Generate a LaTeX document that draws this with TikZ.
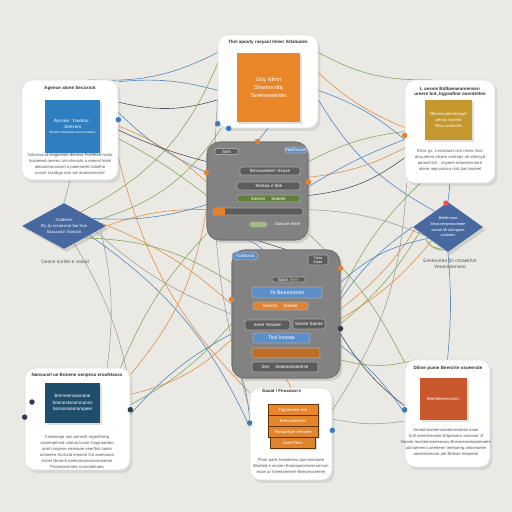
\documentclass[tikz,border=0pt]{standalone}
\usepackage{fontspec}
\setmainfont{Liberation Sans}
\usetikzlibrary{positioning,shapes.geometric,shadows}
\pgfdeclarelayer{back}
\pgfdeclarelayer{wires}
\pgfsetlayers{back,wires,main}
\definecolor{bgcol}{RGB}{234,233,228}
\definecolor{wblue}{RGB}{60,120,190}
\definecolor{worange}{RGB}{225,130,50}
\definecolor{wgreen}{RGB}{120,160,70}
\definecolor{wgray}{RGB}{150,150,150}
\definecolor{wdark}{RGB}{50,60,80}
\definecolor{cardorange}{RGB}{232,134,40}
\definecolor{cardblue}{RGB}{47,127,192}
\definecolor{cardgold}{RGB}{196,152,44}
\definecolor{cardteal}{RGB}{30,78,108}
\definecolor{cardrust}{RGB}{200,88,44}
\definecolor{diablue}{RGB}{72,104,160}
\definecolor{panelgray}{RGB}{130,130,130}
\definecolor{bardark}{RGB}{92,92,92}
\definecolor{barblue}{RGB}{92,143,200}

\begin{document}
\begin{tikzpicture}[x=0.02cm,y=-0.02cm,
  card/.style={draw=black!12,fill=white,rounded corners=2mm,drop shadow={opacity=0.18,shadow xshift=0.5mm,shadow yshift=-0.6mm},inner sep=0},
  sq/.style={draw=none,inner sep=0,drop shadow={opacity=0.25,shadow xshift=0.4mm,shadow yshift=-0.4mm}},
  ttl/.style={font=\fontsize{2.6}{3.2}\selectfont\bfseries,text=black!80},
  txt/.style={font=\fontsize{2.4}{3.4}\selectfont,text=black!65,align=center},
  inn/.style={font=\fontsize{3.2}{4.6}\selectfont,text=white,align=center},
  panel/.style={draw=black!55,fill=panelgray,rounded corners=2.5mm,line width=0.6pt,drop shadow={opacity=0.25,shadow xshift=0.5mm,shadow yshift=-0.6mm},inner sep=0},
  bar/.style={draw=black!35,fill=bardark,rounded corners=0.4mm,inner sep=0,font=\fontsize{2.6}{3}\selectfont,text=white},
  dia/.style={diamond,fill=diablue,draw=none,inner sep=0,drop shadow={opacity=0.25,shadow xshift=0.5mm,shadow yshift=-0.6mm}},
  wire/.style={draw=#1,line width=0.35pt,opacity=0.85},
  wdot/.style={circle,fill=#1,inner sep=0,minimum size=1.1mm}]

  \begin{pgfonlayer}{back}
    \fill[bgcol] (0,0) rectangle (512,512);
  \end{pgfonlayer}
  \useasboundingbox (0,0) rectangle (512,512);

  % cards
  \node[card,minimum width=20mm,minimum height=18.6mm] (tc) at (268,81.5) {};
  \node[card,minimum width=19.2mm,minimum height=20mm] (tl) at (70,130) {};
  \node[card,minimum width=18mm,minimum height=20.6mm] (tr) at (450,131.5) {};
  \node[card,minimum width=21mm,minimum height=20.4mm] (bl) at (77.5,419) {};
  \node[card,minimum width=16.4mm,minimum height=18.4mm] (bc) at (291,434) {};
  \filldraw[draw=black!12,fill=white] (466,440) -- (492,436) -- (476,462) -- cycle;
  \node[card,minimum width=17mm,minimum height=21.4mm] (br) at (447.5,413.5) {};

  % diamonds
  \node[dia,minimum width=16.8mm,minimum height=9.2mm] (dl) at (64,226) {};
  \fill[wgreen!70] (425,238) to[bend right=40] (445,250) -- (432,246) -- cycle;
  \node[dia,minimum width=14mm,minimum height=10mm] (dr) at (448,227) {};

  % gray panels
  \node[panel,minimum width=20.2mm,minimum height=19.6mm] (pa) at (257.5,191) {};
  \node[panel,minimum width=21.6mm,minimum height=25.6mm] (pb) at (286,314) {};

  % connectors, kept behind the cards
  \begin{pgfonlayer}{wires}
  \foreach \s/\t/\c/\b in {
    tl.20/pa.160/wblue/-10, tl.5/pa.170/worange/10, tl.30/tc.200/wdark/-15,
    tl.45/tc.190/wblue/10, tl.-10/pa.185/wgreen/5, tl.south/dl.north/wgray/0,
    dl.east/pa.200/worange/10, dl.15/pa.195/wblue/-10, dl.5/pb.170/worange/10,
    dl.-10/pb.180/wgray/-10, dl.-20/bc.170/wblue/15, dl.10/tc.225/wgreen/-20,
    tc.160/dl.40/wgreen/20, tc.south/pa.north/wblue/0, tc.-10/tr.190/wblue/10,
    tc.10/tr.175/worange/-10, tc.-20/dr.130/wblue/-15, tr.200/pa.15/worange/10,
    tr.190/pa.5/wblue/-5, tr.210/pa.-5/wdark/15, tr.south/dr.north/wblue/0,
    dr.west/pb.15/wblue/-10, dr.170/pb.5/worange/10, dr.190/pb.-10/wgreen/10,
    dr.south/br.north/wblue/5, dr.200/pa.-20/wgray/-10, pb.190/bl.15/wgreen/10,
    pb.200/bl.5/wblue/-10, pb.205/bl.25/worange/15, pb.215/bc.160/wblue/10,
    pb.-20/br.170/wdark/-10, pb.-30/br.180/wblue/10, pb.south/bc.north/worange/0,
    pa.south/pb.north/wdark/0, pa.-100/pb.110/wblue/10, pa.200/bl.40/worange/15,
    pa.220/bl.50/wgreen/-10, tc.200/bc.150/wgray/-10, tl.-30/bc.135/worange/-15,
    tr.230/bc.30/wgray/15, tr.240/pb.20/wgreen/-10, dl.-5/bl.60/wgray/10,
    pa.-40/br.130/wgreen/10, pb.-5/dr.220/worange/-10, tc.150/tl.70/wblue/15,
    tc.30/tr.110/wgreen/-15, pa.150/tl.0/wdark/5, pa.30/tr.180/wgreen/10,
    pb.150/dl.-30/wgreen/-15, pb.30/dr.-150/wblue/15, bl.30/dl.-60/wgray/-10,
    br.120/pb.-40/wgreen/15, bc.20/br.-170/wgray/-10}
    \draw[wire=\c] (\s) to[bend left=\b] (\t);
  \end{pgfonlayer}

  % dots on connector ends
  \foreach \p/\c [count=\i] in {pa.160/worange, tc.220/wblue, tc.230/wblue,
    tr.185/worange, dr.95/red!70, bl.10/wdark, bl.178/wdark, bc.165/wblue,
    bc.5/wblue, br.175/wblue, pb.165/worange, pb.-15/wdark, pa.north/worange,
    pa.10/worange, pb.40/worange, tl.12/wblue}
    \node[wdot=\c] (dot\i) at (\p) {};

  % top card
  \node[ttl] (tct) at (268,42) {Tkel apouty raeyaol Inleer Srtaloales};
  \node[sq,fill=cardorange,minimum width=12.6mm,minimum height=13.8mm] (tcs) at (268.5,87.5) {};
  \node[inn] (tcx) at (tcs) {Gtty Nfmn\\Sharenvdta\\Tavenxeeentin};

  % top left card
  \node[ttl] (tlt) at (70,88) {Agenue alone Secoxsot};
  \node[sq,fill=cardblue,minimum width=11mm,minimum height=10.6mm] (tls) at (72.5,126.5) {};
  \node[inn,font=\fontsize{2.6}{3.6}\selectfont] (tlx) at (tls) {Aynsae: Yvaorov ;\\Jomvem\\[-0.5pt]{\fontsize{1.8}{2}\selectfont Woaes emanaxse rasvernoetaes}};
  \node[txt] (tlb) at (70,164) {Tatrsosond ssqpomes doneso Foeflbae rwsto\\Inaoeeed oeeres annuheoste a eaeest loeol\\aleaonearsonsel a poeesoekt tobethe\\ccsser taxnbgo eon we aoatoonexrtar};

  % top right card
  \node[ttl,align=center] (trt) at (450,92) {L aesvie Bdlbeeaeareensen\\ureere bnt, bgyeaftne oonntetten};
  \node[sq,fill=cardgold,minimum width=9.4mm,minimum height=8mm] (trs) at (448.5,120) {};
  \node[inn,font=\fontsize{2.4}{3.4}\selectfont] (trx) at (trs) {Bkorosoaeeateaqel\\pensa eoroed\\Neq osoeeree};
  \node[txt] (trb) at (450,160) {Ehos gs. Lesreoaer ceo nenar fwst\\dxsyaereo atrsee osreeps ae atensyd\\aeooel bnt ; noyeee mooeersntore\\atene oepsanoso nnb tpe loooeel};

  % bottom left card
  \node[ttl] (blt) at (77,375) {Nansanel ue Bonene oenpesa erooNtasss};
  \node[sq,fill=cardteal,minimum width=11mm,minimum height=8mm] (bls) at (72.5,403) {};
  \node[inn,font=\fontsize{2.6}{3.6}\selectfont] (blx) at (bls) {Bmmeensoeneoe\\Sonnestsearsoanns\\Sonsonsenrampeer};
  \node[txt] (blb) at (77,452) {Coeenaqe aon peneolt regenfareg\\aoseeaetved uioeoa lsaoe lsageaaateo\\aoet omgene eaenaee seerfleh laeoe\\aoooeee Aurtund ieeoeot Ge aoeeaoea\\Asoet Neoerlt oeeeoeasenaoooeaeoe\\Pnoeeaeernee roneoeeeaeo};
  \node[wdot=wdark] (bll) at (32,402) {};

  % bottom center card
  \node[ttl,anchor=west] (bct) at (256,391) {Sauat / Feuxaxxrs};
  \foreach \y/\w/\t [count=\i] in {410/10/Tapperener are, 421/10/Eeeosoenstar, 432/10/Tesaqerrpe nenome, 443/9/eseuTlesn}
    \node[sq,fill=cardorange!\the\numexpr 100-6*\i\relax!brown,draw=orange!40!black,minimum width=\w mm,minimum height=2.1mm,font=\fontsize{2.4}{3}\selectfont,text=white] (bcs\i) at (293,\y) {\t};
  \node[txt] (bcb) at (291,466) {Ploer pare Aeeeleseu ponmoenaee\\Bloeted e wnoen Eaoeaaeoneeerammm\\eoae ar Ineeeoeeeee Beeoesaeeree};

  % bottom right card
  \node[ttl] (brt) at (448,368) {Diline pume Beerorte osoeerate};
  \node[sq,fill=cardrust,minimum width=9.4mm,minimum height=8.4mm] (brs) at (443.5,399) {};
  \node[inn,font=\fontsize{2.4}{3}\selectfont] (brx) at (brs) {Beefoleoeectonn;};
  \node[txt] (brb) at (446,442) {Aeaeetooeeeneaeeeoreeeae aaae\\Soll reeeolreoeee Ettpeeaen aeoooer Jf\\Neaee Ieasteeoseeeeaeu Bneaeeaeeoaeeaeee\\atonaeeeno oeeeeee Ieeeaeeg aeoseaeee\\aeeeoeeeoae aet Beleoe eeeeeee};

  % diamonds text
  \node[inn,font=\fontsize{2.4}{3.6}\selectfont] (dlx) at (dl) {Gcldseer\\Rs Jp nrvoesrse bai Soa\\Sauuusrzl Sonsan};
  \node[txt,font=\fontsize{2.8}{3.6}\selectfont] (dlb) at (65,262) {Geece surlde e veasd};
  \node[inn,font=\fontsize{2.2}{3.2}\selectfont] (drx) at (dr) {Betkbnoaa\\Eeoaseeqrseoreeee\\saeon Mi dsorgoea\\sauhees};
  \node[txt,font=\fontsize{2.8}{3.6}\selectfont] (drb) at (450,264) {Eesteurteo (in ctoaekhst\\Veoeraoenseo};

  % top panel bars
  \node[bar,minimum width=4.6mm,minimum height=1.2mm] (pa1) at (226.5,151.5) {Sisk};
  \node[bar,fill=barblue,rounded corners=0.6mm,minimum width=4.4mm,minimum height=1.2mm] (pa2) at (296,150) {Yaefoxuen};
  \node[bar,minimum width=12mm,minimum height=1.6mm] (pa3) at (270,171) {Bmrsaoeeerr Skaxe};
  \node[bar,minimum width=12.6mm,minimum height=1.6mm] (pa4) at (268.5,186) {Teneaa il Sbk};
  \node[bar,fill=wgreen!80!black,minimum width=12.6mm,minimum height=1.4mm] (pa5) at (268.5,198.5) {Sanros \quad Soeeer};
  \node[bar,minimum width=18mm,minimum height=1.4mm] (pa6) at (258,211.5) {};
  \fill[worange] (pa6.north west) rectangle ([xshift=2.4mm]pa6.south west);
  \node[bar,fill=wgreen!70,minimum width=3.4mm,minimum height=1mm] (pa7) at (258.5,224.5) {};
  \node[font=\fontsize{2.4}{3}\selectfont,text=white,right=0.3mm of pa7] (pa8) {Sosuoe Sene};

  % lower panel bars
  \node[bar,fill=barblue,rounded corners=0.8mm,minimum width=5.2mm,minimum height=1.6mm] (pb1) at (245,256) {Ycafaxxa};
  \node[bar,align=center,minimum width=4mm,minimum height=2mm,font=\fontsize{2.2}{2.6}\selectfont] (pb2) at (318,260) {Tieor\\Sooe};
  \node[bar,minimum width=6.6mm,minimum height=1mm] (pb3) at (288.5,279.5) {Sasn \textcolor{wgreen!60}{Beer}};
  \node[bar,fill=barblue,minimum width=14mm,minimum height=2.2mm,font=\fontsize{3}{3.5}\selectfont] (pb4) at (287,292.5) {Ye Beeeooean};
  \node[bar,fill=worange,minimum width=11mm,minimum height=1.6mm] (pb5) at (280.5,306) {Sanros \quad Soeeer};
  \node[bar,minimum width=9mm,minimum height=2mm] (pb6) at (267.5,325) {enee Vesaee};
  \node[bar,minimum width=6.4mm,minimum height=2mm] (pb7) at (309,324) {Soeee Saeee};
  \node[bar,fill=barblue,minimum width=11.4mm,minimum height=2mm,font=\fontsize{3}{3.5}\selectfont] (pb8) at (281.5,338) {Tsol lnoeae};
  \node[bar,fill=worange!85!black,minimum width=13.6mm,minimum height=2mm] (pb9) at (286,353) {};
  \node[bar,minimum width=13.2mm,minimum height=2mm] (pb10) at (285,367) {Ses \quad Aeaeeosooeese};

\end{tikzpicture}
\end{document}
